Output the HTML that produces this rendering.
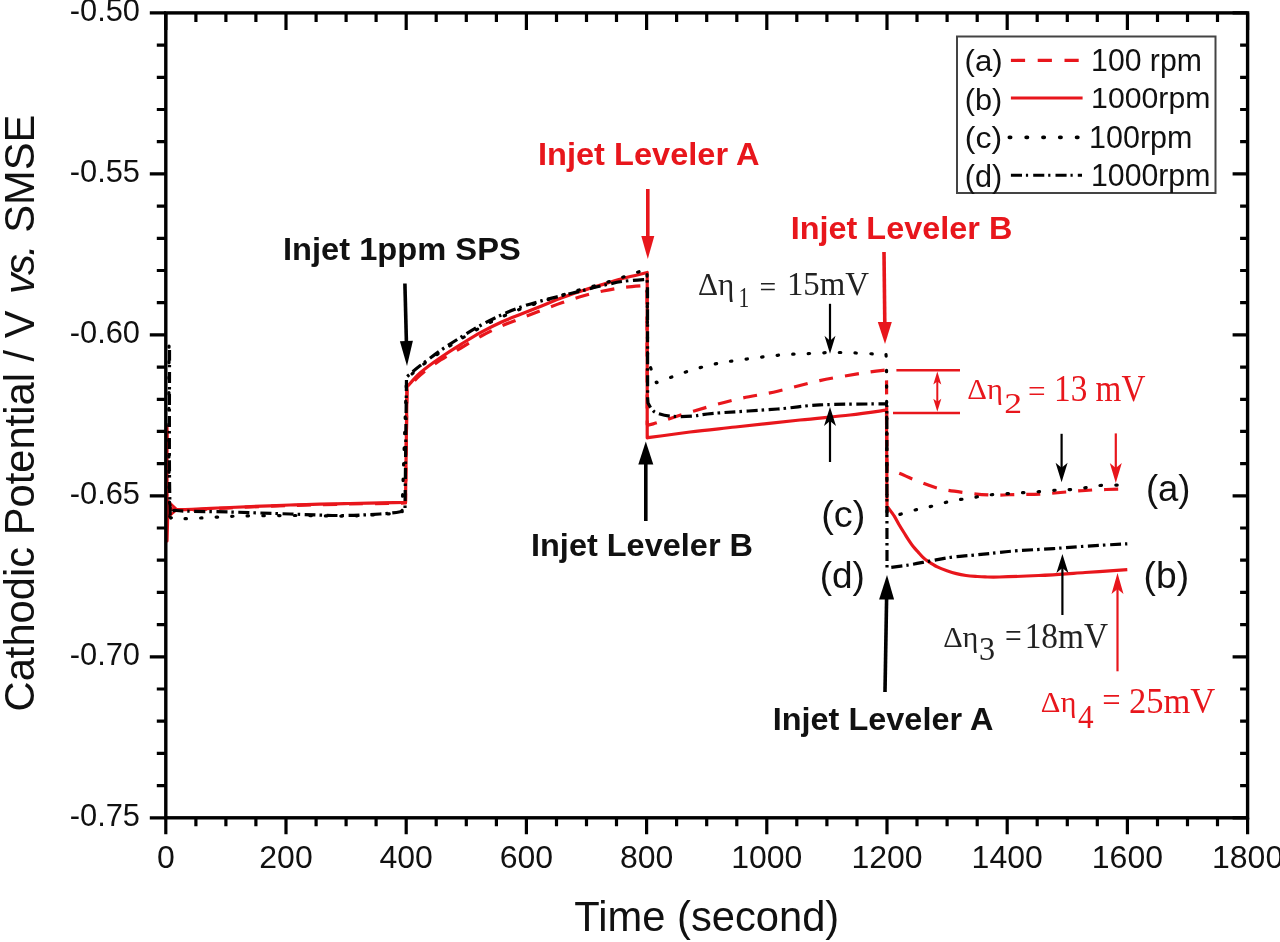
<!DOCTYPE html>
<html><head><meta charset="utf-8"><title>Cathodic potential vs time</title>
<style>
html,body{margin:0;padding:0;background:#fff;overflow:hidden;}
svg{display:block;}
.tl{font-family:'Liberation Sans', Arial, sans-serif;font-size:32px;fill:#111;}
.at{font-family:'Liberation Sans', Arial, sans-serif;font-size:41.7px;fill:#111;}
.bl{font-family:'Liberation Sans', Arial, sans-serif;font-size:31.5px;font-weight:bold;}
.lg{font-family:'Liberation Sans', Arial, sans-serif;font-size:29.5px;fill:#111;}
.cl{font-family:'Liberation Sans', Arial, sans-serif;font-size:34px;fill:#111;}
.an{font-family:'Liberation Serif', 'Times New Roman', serif;font-size:32.5px;}
</style></head>
<body>
<svg width="1280" height="942" viewBox="0 0 1280 942">
<rect width="1280" height="942" fill="#fff"/>
<g fill="none" stroke-linejoin="round">
<path d="M167.0,430.0 C167.0,441.7 165.3,486.7 167.0,500.0 C168.7,513.3 166.5,508.3 177.0,509.6 C187.5,510.9 211.2,508.5 230.0,507.8 C248.8,507.1 270.0,506.1 290.0,505.5 C310.0,504.9 330.8,504.4 350.0,504.0 C369.2,503.6 396.2,503.2 405.5,503.0 L407.0,389.0 C409.2,386.7 414.7,379.8 420.3,375.0 C425.9,370.2 433.8,364.5 440.6,360.0 C447.4,355.5 454.1,352.0 460.9,348.0 C467.7,344.0 474.5,339.7 481.3,336.0 C488.1,332.3 494.8,329.0 501.6,326.0 C508.4,323.0 515.1,320.7 521.9,318.0 C528.7,315.3 535.4,312.6 542.2,310.0 C549.0,307.4 555.7,304.8 562.5,302.5 C569.3,300.2 576.0,297.9 582.8,296.0 C589.6,294.1 596.3,292.4 603.1,291.0 C609.9,289.6 616.1,288.4 623.4,287.5 C630.7,286.6 643.1,285.8 647.0,285.4 L647.2,424.5 C648.2,424.4 645.5,426.1 653.2,423.9 C660.9,421.7 679.6,415.2 693.3,411.2 C707.0,407.1 721.5,402.9 735.5,399.6 C749.5,396.3 763.6,394.4 777.6,391.2 C791.6,388.0 805.7,383.6 819.8,380.6 C833.9,377.6 851.0,375.0 862.0,373.2 C873.0,371.4 882.0,370.5 886.0,370.0 L886.5,372.0 L887.0,471.6 L888.0,471.6 C889.5,471.8 892.5,471.1 897.0,472.5 C901.5,473.9 908.0,477.3 915.0,480.0 C922.0,482.7 930.7,486.4 939.0,488.5 C947.3,490.6 956.3,491.6 965.0,492.7 C973.7,493.8 982.5,494.7 991.0,495.0 C999.5,495.3 1007.7,494.7 1016.0,494.5 C1024.3,494.3 1032.7,494.4 1041.0,494.0 C1049.3,493.6 1057.5,492.7 1066.0,492.0 C1074.5,491.3 1082.2,490.5 1092.0,490.0 C1101.8,489.5 1119.5,489.2 1125.0,489.0" stroke="#e8161c" stroke-width="3.2" stroke-dasharray="14 12"/>
<path d="M167.0,425.0 L167.0,541.0 L168.0,505.0 C169.5,505.8 166.7,509.2 177.0,509.6 C187.3,510.0 211.2,508.3 230.0,507.5 C248.8,506.7 270.0,505.7 290.0,505.0 C310.0,504.3 330.8,503.9 350.0,503.5 C369.2,503.1 396.2,502.5 405.5,502.3 L407.0,387.0 C409.2,384.6 414.7,377.6 420.3,372.7 C425.9,367.8 433.8,362.2 440.6,357.5 C447.4,352.8 454.1,348.5 460.9,344.3 C467.7,340.1 474.5,335.8 481.3,332.1 C488.1,328.4 494.8,325.1 501.6,322.0 C508.4,318.9 515.1,316.5 521.9,313.8 C528.7,311.1 535.4,308.4 542.2,305.7 C549.0,303.0 555.7,300.1 562.5,297.6 C569.3,295.1 576.0,292.7 582.8,290.5 C589.6,288.3 596.3,286.4 603.1,284.4 C609.9,282.4 616.0,280.3 623.4,278.3 C630.8,276.3 643.2,273.5 647.2,272.5 L647.2,437.8 C654.3,436.8 675.3,433.8 690.0,432.0 C704.7,430.2 717.2,429.0 735.5,427.0 C753.8,425.0 780.9,422.0 800.0,420.0 C819.1,418.0 835.7,416.6 850.0,415.0 C864.3,413.4 880.0,411.0 886.0,410.2 L886.5,412.0 L887.0,507.0 L888.0,507.5 C889.0,508.9 892.4,513.3 894.3,516.2 C896.1,519.1 897.5,522.1 899.1,524.8 C900.7,527.5 902.3,530.0 903.9,532.5 C905.5,535.0 907.1,537.7 908.7,540.1 C910.3,542.5 911.8,544.8 913.4,546.8 C915.0,548.8 916.6,550.4 918.2,552.1 C919.8,553.9 921.4,555.8 923.0,557.3 C924.6,558.8 925.4,559.5 927.8,561.1 C930.2,562.7 934.1,565.3 937.3,566.9 C940.5,568.5 943.7,569.6 946.9,570.7 C950.1,571.8 953.2,572.8 956.4,573.6 C959.6,574.4 962.8,575.0 966.0,575.5 C969.2,576.0 972.3,576.2 975.5,576.4 C978.7,576.6 981.1,576.8 985.1,576.9 C989.1,577.0 990.5,577.2 999.4,577.0 C1008.3,576.8 1024.4,576.2 1038.7,575.5 C1053.0,574.8 1070.2,573.5 1085.0,572.5 C1099.8,571.5 1120.2,570.2 1127.3,569.7" stroke="#e8161c" stroke-width="3.2"/>
<path d="M166.8,500 L177,509.6 L166.8,518" stroke="#e8161c" stroke-width="2.6"/>
<path d="M169.0,346.0 C169.1,371.7 168.5,471.5 169.5,500.0 C170.5,528.5 169.9,514.0 175.0,517.0 C180.1,520.0 189.2,518.2 200.0,518.0 C210.8,517.8 223.3,516.4 240.0,516.0 C256.7,515.6 281.7,515.5 300.0,515.5 C318.3,515.5 333.0,516.4 350.0,516.0 C367.0,515.6 393.3,513.5 402.0,513.0 L406.5,379.0 C408.8,377.0 414.3,371.5 420.0,367.0 C425.7,362.5 433.8,356.7 440.6,352.0 C447.4,347.3 454.1,343.2 460.9,339.0 C467.7,334.8 474.5,330.7 481.3,327.0 C488.1,323.3 494.8,320.1 501.6,317.0 C508.4,313.9 515.1,311.1 521.9,308.5 C528.7,305.9 535.4,303.8 542.2,301.5 C549.0,299.2 555.7,297.1 562.5,295.0 C569.3,292.9 576.0,290.9 582.8,289.0 C589.6,287.1 596.3,285.5 603.1,283.5 C609.9,281.5 616.1,279.4 623.4,277.0 C630.7,274.6 643.1,270.3 647.0,269.0 L647.3,300.0 L647.6,360.0 L656.4,382.7 C658.8,381.8 666.1,379.1 671.0,377.3 C675.9,375.5 681.0,373.6 685.8,372.0 C690.6,370.4 694.8,369.1 699.6,367.8 C704.4,366.5 708.3,365.2 714.4,364.0 C720.5,362.8 725.5,361.9 736.0,360.5 C746.5,359.1 765.3,356.5 777.6,355.3 C789.9,354.1 799.4,354.0 810.0,353.5 C820.6,353.0 828.3,352.3 841.0,352.5 C853.7,352.7 878.5,354.2 886.0,354.5 L886.5,360.0 L887.0,512.0 L895.0,516.0 C897.8,515.1 906.7,512.1 912.0,510.7 C917.3,509.3 922.0,508.7 927.0,507.5 C932.0,506.3 937.1,504.5 942.0,503.3 C946.9,502.1 951.7,501.0 956.5,500.1 C961.3,499.2 966.1,498.8 971.0,498.0 C975.9,497.2 980.3,496.0 986.0,495.3 C991.7,494.6 999.0,494.2 1005.0,493.8 C1011.0,493.4 1016.3,493.1 1022.0,492.7 C1027.7,492.3 1033.3,492.1 1039.0,491.7 C1044.7,491.3 1050.8,490.5 1056.0,490.2 C1061.2,489.9 1064.8,490.1 1070.0,489.6 C1075.2,489.2 1081.7,488.2 1087.0,487.5 C1092.3,486.8 1096.5,485.7 1102.0,485.3 C1107.5,484.9 1117.0,485.1 1120.0,485.0" stroke="#000" stroke-width="3.2" stroke-linecap="round" stroke-dasharray="1.4 14.2"/>
<path d="M169.5,350.0 C169.6,375.8 168.9,478.2 170.0,505.0 C171.1,531.8 166.0,509.3 176.0,510.5 C186.0,511.7 211.0,511.4 230.0,512.0 C249.0,512.6 271.7,513.4 290.0,514.0 C308.3,514.6 325.0,515.5 340.0,515.5 C355.0,515.5 369.9,514.6 380.0,514.0 C390.1,513.4 396.1,512.5 400.3,511.7 C404.5,510.9 404.2,509.9 405.0,509.5 L406.5,377.0 C408.8,375.1 414.6,370.0 420.3,365.6 C426.0,361.2 433.8,355.1 440.6,350.4 C447.4,345.7 454.1,341.4 460.9,337.2 C467.7,333.0 474.5,328.7 481.3,325.0 C488.1,321.3 494.8,317.9 501.6,314.8 C508.4,311.8 515.1,309.1 521.9,306.7 C528.7,304.3 535.4,302.5 542.2,300.6 C549.0,298.7 555.7,297.2 562.5,295.5 C569.3,293.8 576.0,292.2 582.8,290.5 C589.6,288.8 596.3,286.9 603.1,285.4 C609.9,283.9 616.1,282.3 623.4,281.3 C630.7,280.3 643.1,279.6 647.0,279.3 L647.5,285.0 L647.6,398.0 L648.0,403.0 C648.7,404.1 650.4,407.8 652.0,409.5 C653.6,411.2 654.0,412.2 657.4,413.3 C660.8,414.4 666.2,415.9 672.2,416.3 C678.2,416.8 686.3,416.5 693.3,416.0 C700.3,415.5 700.0,414.5 714.0,413.3 C728.0,412.1 760.0,410.4 777.6,409.0 C795.2,407.6 801.7,405.8 819.8,404.9 C837.9,404.0 875.0,404.0 886.0,403.8 L886.8,406.0 L887.0,567.6 L887.5,567.8 C891.0,567.3 901.7,566.1 908.7,565.0 C915.7,563.9 922.7,562.4 929.7,561.1 C936.7,559.8 943.9,558.2 950.7,557.3 C957.6,556.3 964.3,556.0 970.8,555.4 C977.3,554.8 982.1,554.3 989.9,553.5 C997.7,552.7 1007.0,551.5 1017.6,550.7 C1028.2,549.9 1042.9,549.3 1053.5,548.6 C1064.1,547.9 1068.7,547.3 1081.0,546.5 C1093.3,545.7 1119.6,544.2 1127.3,543.8" stroke="#000" stroke-width="3.2" stroke-dasharray="11 4 2.5 4.5"/>
</g>
<rect x="165.8" y="12.9" width="1081.8" height="804.9" fill="none" stroke="#000" stroke-width="3.4"/>
<path d="M165.8,817.8v16.5 M165.8,12.9v17 M195.9,817.8v8.5 M195.9,12.9v9.2 M225.9,817.8v8.5 M225.9,12.9v9.2 M255.9,817.8v8.5 M255.9,12.9v9.2 M286.0,817.8v16.5 M286.0,12.9v17 M316.1,817.8v8.5 M316.1,12.9v9.2 M346.1,817.8v8.5 M346.1,12.9v9.2 M376.1,817.8v8.5 M376.1,12.9v9.2 M406.2,817.8v16.5 M406.2,12.9v17 M436.2,817.8v8.5 M436.2,12.9v9.2 M466.3,817.8v8.5 M466.3,12.9v9.2 M496.4,817.8v8.5 M496.4,12.9v9.2 M526.4,817.8v16.5 M526.4,12.9v17 M556.5,817.8v8.5 M556.5,12.9v9.2 M586.5,817.8v8.5 M586.5,12.9v9.2 M616.5,817.8v8.5 M616.5,12.9v9.2 M646.6,817.8v16.5 M646.6,12.9v17 M676.6,817.8v8.5 M676.6,12.9v9.2 M706.7,817.8v8.5 M706.7,12.9v9.2 M736.8,817.8v8.5 M736.8,12.9v9.2 M766.8,817.8v16.5 M766.8,12.9v17 M796.8,817.8v8.5 M796.8,12.9v9.2 M826.9,817.8v8.5 M826.9,12.9v9.2 M857.0,817.8v8.5 M857.0,12.9v9.2 M887.0,817.8v16.5 M887.0,12.9v17 M917.0,817.8v8.5 M917.0,12.9v9.2 M947.1,817.8v8.5 M947.1,12.9v9.2 M977.2,817.8v8.5 M977.2,12.9v9.2 M1007.2,817.8v16.5 M1007.2,12.9v17 M1037.2,817.8v8.5 M1037.2,12.9v9.2 M1067.3,817.8v8.5 M1067.3,12.9v9.2 M1097.3,817.8v8.5 M1097.3,12.9v9.2 M1127.4,817.8v16.5 M1127.4,12.9v17 M1157.5,817.8v8.5 M1157.5,12.9v9.2 M1187.5,817.8v8.5 M1187.5,12.9v9.2 M1217.5,817.8v8.5 M1217.5,12.9v9.2 M1247.6,817.8v16.5 M1247.6,12.9v17 M165.8,12.9h-16 M1247.6,12.9h-15 M165.8,45.1h-9 M1247.6,45.1h-7.5 M165.8,77.3h-9 M1247.6,77.3h-7.5 M165.8,109.5h-9 M1247.6,109.5h-7.5 M165.8,141.7h-9 M1247.6,141.7h-7.5 M165.8,173.9h-16 M1247.6,173.9h-15 M165.8,206.1h-9 M1247.6,206.1h-7.5 M165.8,238.3h-9 M1247.6,238.3h-7.5 M165.8,270.5h-9 M1247.6,270.5h-7.5 M165.8,302.7h-9 M1247.6,302.7h-7.5 M165.8,334.9h-16 M1247.6,334.9h-15 M165.8,367.1h-9 M1247.6,367.1h-7.5 M165.8,399.3h-9 M1247.6,399.3h-7.5 M165.8,431.4h-9 M1247.6,431.4h-7.5 M165.8,463.6h-9 M1247.6,463.6h-7.5 M165.8,495.8h-16 M1247.6,495.8h-15 M165.8,528.0h-9 M1247.6,528.0h-7.5 M165.8,560.2h-9 M1247.6,560.2h-7.5 M165.8,592.4h-9 M1247.6,592.4h-7.5 M165.8,624.6h-9 M1247.6,624.6h-7.5 M165.8,656.8h-16 M1247.6,656.8h-15 M165.8,689.0h-9 M1247.6,689.0h-7.5 M165.8,721.2h-9 M1247.6,721.2h-7.5 M165.8,753.4h-9 M1247.6,753.4h-7.5 M165.8,785.6h-9 M1247.6,785.6h-7.5 M165.8,817.8h-16 M1247.6,817.8h-15" stroke="#000" stroke-width="3.2" fill="none"/>
<text x="165.8" y="867.5" text-anchor="middle" class="tl">0</text>
<text x="286.0" y="867.5" text-anchor="middle" class="tl">200</text>
<text x="406.2" y="867.5" text-anchor="middle" class="tl">400</text>
<text x="526.4" y="867.5" text-anchor="middle" class="tl">600</text>
<text x="646.6" y="867.5" text-anchor="middle" class="tl">800</text>
<text x="766.8" y="867.5" text-anchor="middle" class="tl">1000</text>
<text x="887.0" y="867.5" text-anchor="middle" class="tl">1200</text>
<text x="1007.2" y="867.5" text-anchor="middle" class="tl">1400</text>
<text x="1127.4" y="867.5" text-anchor="middle" class="tl">1600</text>
<text x="1247.6" y="867.5" text-anchor="middle" class="tl">1800</text>
<text x="140" y="21.3" text-anchor="end" class="tl" textLength="70.2" lengthAdjust="spacingAndGlyphs">-0.50</text>
<text x="140" y="182.3" text-anchor="end" class="tl" textLength="70.2" lengthAdjust="spacingAndGlyphs">-0.55</text>
<text x="140" y="343.3" text-anchor="end" class="tl" textLength="70.2" lengthAdjust="spacingAndGlyphs">-0.60</text>
<text x="140" y="504.2" text-anchor="end" class="tl" textLength="70.2" lengthAdjust="spacingAndGlyphs">-0.65</text>
<text x="140" y="665.2" text-anchor="end" class="tl" textLength="70.2" lengthAdjust="spacingAndGlyphs">-0.70</text>
<text x="140" y="826.2" text-anchor="end" class="tl" textLength="70.2" lengthAdjust="spacingAndGlyphs">-0.75</text>
<text x="706.8" y="930.7" text-anchor="middle" class="at">Time (second)</text>
<text transform="translate(33.5,413) rotate(-90)" text-anchor="middle" class="at">Cathodic Potential / V <tspan font-style="italic" dx="5" letter-spacing="-1.8">vs.</tspan><tspan dx="1.8"> SMSE</tspan></text>
<rect x="957" y="36.5" width="258.5" height="156.5" fill="#fff" stroke="#444" stroke-width="2"/>
<path d="M1010.9,60.4H1082" stroke="#e8161c" stroke-width="3.2" stroke-dasharray="14.2 12.6"/>
<path d="M1010.9,98H1082.6" stroke="#e8161c" stroke-width="3.2"/>
<path d="M1009.4,137.3H1080" stroke="#000" stroke-width="3.8" stroke-linecap="round" stroke-dasharray="1.2 15.6"/>
<path d="M1010.9,175.3H1082" stroke="#000" stroke-width="3" stroke-dasharray="11.1 3.9 2.2 5.1"/>
<path d="M404.9,283.5L406.4,342.0" stroke="#000" stroke-width="3.6" fill="none"/><path d="M407.0,366.0L399.9,341.2L406.4,341.0L412.9,340.8Z" fill="#000"/>
<path d="M647.8,189.0L647.8,237.0" stroke="#e8161c" stroke-width="3.6" fill="none"/><path d="M647.8,259.0L641.3,236.0L647.8,236.0L654.3,236.0Z" fill="#e8161c"/>
<path d="M645.8,521.0L645.8,463.5" stroke="#000" stroke-width="3.6" fill="none"/><path d="M645.8,441.5L653.3,464.5L645.8,464.5L638.3,464.5Z" fill="#000"/>
<path d="M884.0,252.0L884.8,323.0" stroke="#e8161c" stroke-width="3.6" fill="none"/><path d="M885.0,344.0L877.8,322.1L884.8,322.0L891.8,321.9Z" fill="#e8161c"/>
<path d="M885.0,692.0L886.6,598.5" stroke="#000" stroke-width="3.6" fill="none"/><path d="M887.0,575.0L894.1,599.6L886.6,599.5L879.1,599.4Z" fill="#000"/>
<path d="M830.0,303.8L830.0,341.7" stroke="#000" stroke-width="2.2" fill="none"/><path d="M830.0,353.7L824.5,335.7L830.0,340.7L835.5,335.7Z" fill="#000"/>
<path d="M1061.6,433.8L1061.6,468.7" stroke="#000" stroke-width="2.2" fill="none"/><path d="M1061.6,482.2L1055.6,462.7L1061.6,467.7L1067.6,462.7Z" fill="#000"/>
<path d="M1115.8,433.4L1115.8,469.0" stroke="#e8161c" stroke-width="2.2" fill="none"/><path d="M1115.8,483.0L1109.8,463.0L1115.8,468.0L1121.8,463.0Z" fill="#e8161c"/>
<path d="M1062.4,615.0L1062.4,566.9" stroke="#000" stroke-width="2.2" fill="none"/><path d="M1062.4,553.9L1068.4,572.9L1062.4,567.9L1056.4,572.9Z" fill="#000"/>
<path d="M1117.5,671.3L1117.5,587.9" stroke="#e8161c" stroke-width="2.2" fill="none"/><path d="M1117.5,572.9L1123.5,593.9L1117.5,588.9L1111.5,593.9Z" fill="#e8161c"/>
<path d="M830.0,462.0L830.0,420.0" stroke="#000" stroke-width="2.2" fill="none"/><path d="M830.0,407.0L836.0,426.0L830.0,421.0L824.0,426.0Z" fill="#000"/>
<path d="M896.4,370.3H960 M893,413H960" stroke="#e8161c" stroke-width="2.4" fill="none"/>
<path d="M937.3,392.0L937.3,380.5" stroke="#e8161c" stroke-width="2" fill="none"/><path d="M937.3,371.5L941.3,384.5L937.3,381.5L933.3,384.5Z" fill="#e8161c"/>
<path d="M937.3,392.0L937.3,402.8" stroke="#e8161c" stroke-width="2" fill="none"/><path d="M937.3,411.8L933.3,398.8L937.3,401.8L941.3,398.8Z" fill="#e8161c"/>
<text x="538" y="164.6" class="bl" fill="#e8161c" textLength="221.5" lengthAdjust="spacingAndGlyphs">Injet Leveler A</text>
<text x="283" y="259.6" class="bl" fill="#111" textLength="237.7" lengthAdjust="spacingAndGlyphs">Injet 1ppm SPS</text>
<text x="531" y="555.8" class="bl" fill="#111" textLength="222" lengthAdjust="spacingAndGlyphs">Injet Leveler B</text>
<text x="790.7" y="239" class="bl" fill="#e8161c" textLength="221.7" lengthAdjust="spacingAndGlyphs">Injet Leveler B</text>
<text x="772.7" y="729.8" class="bl" fill="#111" textLength="220.7" lengthAdjust="spacingAndGlyphs">Injet Leveler A</text>
<text transform="matrix(0.9743,0,0,0.9536,697.93,294.62)" style="font-family:'Liberation Serif',serif;font-size:32px;font-weight:normal;font-style:normal" fill="#222">Δη</text>
<text transform="matrix(0.6727,0,0,0.9524,738.48,306.50)" style="font-family:'Liberation Serif',serif;font-size:32px;font-weight:normal;font-style:normal" fill="#222">1</text>
<text transform="matrix(0.9250,0,0,0.9250,759.58,296.67)" style="font-family:'Liberation Serif',serif;font-size:32px;font-weight:normal;font-style:normal" fill="#222">=</text>
<text transform="matrix(1.0260,0,0,1.0286,786.92,294.70)" style="font-family:'Liberation Serif',serif;font-size:32px;font-weight:normal;font-style:normal" fill="#222">15mV</text>
<text transform="matrix(0.9543,0,0,0.9250,967.25,398.52)" style="font-family:'Liberation Serif',serif;font-size:32px;font-weight:normal;font-style:normal" fill="#e8161c">Δη</text>
<text transform="matrix(1.1143,0,0,0.9524,1004.19,412.50)" style="font-family:'Liberation Serif',serif;font-size:32px;font-weight:normal;font-style:normal" fill="#e8161c">2</text>
<text transform="matrix(0.9750,0,0,1.0125,1028.03,402.49)" style="font-family:'Liberation Serif',serif;font-size:32px;font-weight:normal;font-style:normal" fill="#e8161c">=</text>
<text transform="matrix(1.0388,0,0,1.1667,1054.08,400.60)" style="font-family:'Liberation Serif',serif;font-size:32px;font-weight:normal;font-style:normal" fill="#e8161c">13 mV</text>
<text transform="matrix(0.9457,0,0,0.9286,943.15,646.50)" style="font-family:'Liberation Serif',serif;font-size:32px;font-weight:normal;font-style:normal" fill="#222">Δη</text>
<text transform="matrix(1.0071,0,0,1.0381,978.99,660.00)" style="font-family:'Liberation Serif',serif;font-size:32px;font-weight:normal;font-style:normal" fill="#222">3</text>
<text transform="matrix(0.9250,0,0,1.1375,1005.08,647.56)" style="font-family:'Liberation Serif',serif;font-size:32px;font-weight:normal;font-style:normal" fill="#222">=</text>
<text transform="matrix(1.0416,0,0,1.1381,1024.68,648.00)" style="font-family:'Liberation Serif',serif;font-size:32px;font-weight:normal;font-style:normal" fill="#222">18mV</text>
<text transform="matrix(0.9543,0,0,0.9036,1040.75,711.58)" style="font-family:'Liberation Serif',serif;font-size:32px;font-weight:normal;font-style:normal" fill="#e8161c">Δη</text>
<text transform="matrix(0.9750,0,0,1.0238,1078.00,727.50)" style="font-family:'Liberation Serif',serif;font-size:32px;font-weight:normal;font-style:normal" fill="#e8161c">4</text>
<text transform="matrix(1.0187,0,0,1.1125,1102.28,712.29)" style="font-family:'Liberation Serif',serif;font-size:32px;font-weight:normal;font-style:normal" fill="#e8161c">=</text>
<text transform="matrix(1.0797,0,0,1.1333,1128.92,712.70)" style="font-family:'Liberation Serif',serif;font-size:32px;font-weight:normal;font-style:normal" fill="#e8161c">25mV</text>
<text transform="matrix(1.0394,0,0,1.0036,964.52,71.38)" style="font-family:'Liberation Sans',sans-serif;font-size:30px;font-weight:normal;font-style:normal" fill="#111">(a)</text>
<text transform="matrix(1.0212,0,0,1.0000,964.86,109.60)" style="font-family:'Liberation Sans',sans-serif;font-size:30px;font-weight:normal;font-style:normal" fill="#111">(b)</text>
<text transform="matrix(1.0677,0,0,1.0143,964.76,148.11)" style="font-family:'Liberation Sans',sans-serif;font-size:30px;font-weight:normal;font-style:normal" fill="#111">(c)</text>
<text transform="matrix(1.0212,0,0,1.0321,964.86,186.81)" style="font-family:'Liberation Sans',sans-serif;font-size:30px;font-weight:normal;font-style:normal" fill="#111">(d)</text>
<text transform="matrix(1.0066,0,0,1.0154,1091.09,70.51)" style="font-family:'Liberation Sans',sans-serif;font-size:30px;font-weight:normal;font-style:normal" fill="#111">100 rpm</text>
<text transform="matrix(1.0078,0,0,1.0000,1091.08,108.20)" style="font-family:'Liberation Sans',sans-serif;font-size:30px;font-weight:normal;font-style:normal" fill="#111">1000rpm</text>
<text transform="matrix(1.0153,0,0,1.0154,1089.07,147.51)" style="font-family:'Liberation Sans',sans-serif;font-size:30px;font-weight:normal;font-style:normal" fill="#111">100rpm</text>
<text transform="matrix(1.0087,0,0,1.0154,1090.98,186.11)" style="font-family:'Liberation Sans',sans-serif;font-size:30px;font-weight:normal;font-style:normal" fill="#111">1000rpm</text>
<text transform="matrix(1.2152,0,0,1.2464,1145.97,500.62)" style="font-family:'Liberation Sans',sans-serif;font-size:30px;font-weight:normal;font-style:normal" fill="#111">(a)</text>
<text transform="matrix(1.2394,0,0,1.2464,1143.62,588.32)" style="font-family:'Liberation Sans',sans-serif;font-size:30px;font-weight:normal;font-style:normal" fill="#111">(b)</text>
<text transform="matrix(1.2613,0,0,1.2500,821.18,527.00)" style="font-family:'Liberation Sans',sans-serif;font-size:30px;font-weight:normal;font-style:normal" fill="#111">(c)</text>
<text transform="matrix(1.2333,0,0,1.2500,819.63,587.50)" style="font-family:'Liberation Sans',sans-serif;font-size:30px;font-weight:normal;font-style:normal" fill="#111">(d)</text>
</svg>
</body></html>
